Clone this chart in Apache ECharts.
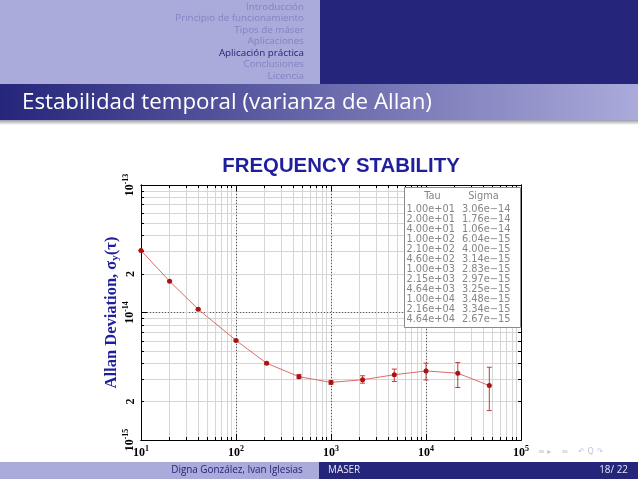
<!DOCTYPE html>
<html>
<head>
<meta charset="utf-8">
<title>Estabilidad temporal (varianza de Allan)</title>
<script src="https://cdn.jsdelivr.net/npm/echarts@6/dist/echarts.min.js"></script>
<style>
    html, body { margin: 0; padding: 0; background: #fff; }
    #chart { width: 638px; height: 479px; }
</style>
</head>
<body>
<div id="chart"></div>
<script>
var tau = [10, 20, 40, 100, 210, 460, 1000, 2150, 4640, 10000, 21600, 46400];
var sigma = [3.06e-14, 1.76e-14, 1.06e-14, 6.04e-15, 4.00e-15, 3.14e-15, 2.83e-15, 2.97e-15, 3.25e-15, 3.48e-15, 3.34e-15, 2.67e-15];
// error bars
var sigmaLow = [3.06e-14, 1.76e-14, 1.05e-14, 5.96e-15, 3.93e-15, 3.03e-15, 2.74e-15, 2.79e-15, 2.88e-15, 2.96e-15, 2.58e-15, 1.70e-15];
var sigmaHigh = [3.06e-14, 1.76e-14, 1.07e-14, 6.12e-15, 4.07e-15, 3.26e-15, 2.93e-15, 3.19e-15, 3.60e-15, 4.00e-15, 4.05e-15, 3.72e-15];

var xMajor = [10, 100, 1000, 10000, 100000];
var yMajor = [1e-15, 1e-14, 1e-13];
var yLabelTicks = [1e-15, 2e-15, 1e-14, 2e-14, 1e-13];

var sections = ['Introducción', 'Principio de funcionamiento', 'Tipos de máser', 'Aplicaciones', 'Aplicación práctica', 'Conclusiones', 'Licencia'];
var activeSection = 4;

var navy = '#25257b';
var lavender = '#aaaadb';
var lg = Math.log10;

function allTicks(majors) {
    var out = [];
    for (var i = 0; i < majors.length; i++) {
        for (var k = 1; k <= 9; k++) {
            var v = majors[i] * k;
            if (v <= majors[majors.length - 1] * 1.0001) out.push(lg(v));
        }
    }
    return out;
}

function fmtE(v) {
    var p = v.toExponential(2).split('e');
    var ex = parseInt(p[1], 10);
    var a = Math.abs(ex);
    return p[0] + 'e' + (ex < 0 ? '−' : '+') + (a < 10 ? '0' + a : a);
}

var xMin = lg(xMajor[0]), xMax = lg(xMajor[xMajor.length - 1]);
var yMin = lg(yMajor[0]), yMax = lg(yMajor[yMajor.length - 1]);
var xTicks = allTicks(xMajor);
var yTicks = allTicks(yMajor);

var lineData = tau.map(function (t, i) { return [lg(t), lg(sigma[i])]; });
var errData = tau.map(function (t, i) { return [lg(t), lg(sigmaLow[i]), lg(sigmaHigh[i])]; });

var serifRich = {
    b: { fontFamily: 'Liberation Serif', fontWeight: 'bold', fontSize: 12, color: '#000' },
    s: { fontFamily: 'Liberation Serif', fontWeight: 'bold', fontSize: 8, color: '#000', padding: [0, 0, 7, 0] }
};

function isInt(v) { return Math.abs(v - Math.round(v)) < 1e-6; }

// table in the upper right corner
var tblFont = '9.8px "DejaVu Sans", sans-serif';
var tblColor = '#858585';
var tableChildren = [
    { type: 'rect', z: 50, shape: { x: 0, y: 0, width: 116, height: 140 }, style: { fill: '#fff', stroke: '#8a8a8a', lineWidth: 1 } },
    { type: 'text', z: 51, x: 28, y: 9, style: { text: 'Tau', fill: tblColor, font: tblFont, align: 'center', verticalAlign: 'middle' } },
    { type: 'text', z: 51, x: 79, y: 9, style: { text: 'Sigma', fill: tblColor, font: tblFont, align: 'center', verticalAlign: 'middle' } }
];
tau.forEach(function (t, i) {
    var yy = 22.3 + i * 10;
    tableChildren.push({ type: 'text', z: 51, x: 2, y: yy, style: { text: fmtE(t), fill: tblColor, font: tblFont, verticalAlign: 'middle' } });
    tableChildren.push({ type: 'text', z: 51, x: 57.5, y: yy, style: { text: fmtE(sigma[i]), fill: tblColor, font: tblFont, verticalAlign: 'middle' } });
});

// beamer frame
var sectionTexts = sections.map(function (s, i) {
    return { type: 'text', x: 304, y: 7 + i * 11.5, style: { text: s, fill: i === activeSection ? '#25257b' : '#8383c2', font: '9.8px "Open Sans", sans-serif', align: 'right', verticalAlign: 'middle' } };
});

var graphics = [
    { type: 'rect', shape: { x: 0, y: 0, width: 320, height: 84 }, style: { fill: lavender }, z: -10 },
    { type: 'rect', shape: { x: 320, y: 0, width: 318, height: 84 }, style: { fill: navy }, z: -10 },
    { type: 'rect', shape: { x: 0, y: 84, width: 638, height: 36 }, z: -10,
      style: { fill: new echarts.graphic.LinearGradient(0, 0, 1, 0, [{ offset: 0, color: navy }, { offset: 1, color: lavender }]) } },
    { type: 'rect', shape: { x: 0, y: 120, width: 638, height: 5 }, z: -10,
      style: { fill: new echarts.graphic.LinearGradient(0, 0, 0, 1, [{ offset: 0, color: '#9a9aa8' }, { offset: 1, color: '#ffffff' }]) } },
    { type: 'text', x: 22, y: 103, style: { text: 'Estabilidad temporal (varianza de Allan)', fill: '#fff', font: '22.3px "Open Sans", sans-serif', verticalAlign: 'middle' } },
    { type: 'rect', shape: { x: 0, y: 462, width: 319, height: 17 }, style: { fill: lavender }, z: -10 },
    { type: 'rect', shape: { x: 319, y: 462, width: 319, height: 17 }, style: { fill: navy }, z: -10 },
    { type: 'text', x: 237, y: 470.5, style: { text: 'Digna González, Ivan Iglesias', fill: navy, font: '9.9px "Open Sans", sans-serif', align: 'center', verticalAlign: 'middle' } },
    { type: 'text', x: 328, y: 470.5, style: { text: 'MASER', fill: '#e6e6f2', font: '9.9px "Open Sans", sans-serif', verticalAlign: 'middle' } },
    { type: 'text', x: 628, y: 470.5, style: { text: '18/ 22', fill: '#e6e6f2', font: '9.9px "Open Sans", sans-serif', align: 'right', verticalAlign: 'middle' } },
    { type: 'text', x: 538, y: 452, style: { text: '≡ ▸    ≡    ↶ Q ↷', fill: '#c4c4dc', font: '8px "DejaVu Sans", sans-serif', verticalAlign: 'middle' } },
    { type: 'group', x: 404.5, y: 187.5, z: 50, children: tableChildren }
].concat(sectionTexts);

function axisBase(extra) {
    var base = {
        type: 'value',
        axisLine: { show: true, onZero: false, lineStyle: { color: '#000', width: 1 } },
        axisTick: { show: true, inside: true, length: 3, lineStyle: { color: '#000', width: 1 } },
        splitLine: { show: false },
        axisLabel: { show: false }
    };
    return Object.assign(base, extra);
}

var chart = echarts.init(document.getElementById('chart'));

var option = {
    animation: false,
    backgroundColor: '#fff',
    title: {
        text: 'FREQUENCY STABILITY',
        left: 336, top: 151, textAlign: 'center',
        textStyle: { color: '#1f1f9e', fontFamily: 'Liberation Sans', fontWeight: 'bold', fontSize: 20.4 }
    },
    grid: { left: 141, right: 117, top: 185, bottom: 39 },
    graphic: graphics,
    xAxis: [
        axisBase({ position: 'bottom', min: xMin, max: xMax,
            axisTick: { show: true, inside: true, length: 3, customValues: xTicks, lineStyle: { color: '#000' } },
            splitLine: { show: true, lineStyle: { color: '#d6d6d6', width: 1 } } }),
        axisBase({ position: 'bottom', min: xMin, max: xMax, interval: 1,
            axisTick: { show: true, inside: true, length: 6, lineStyle: { color: '#000' } },
            splitLine: { show: true, lineStyle: { color: '#555', width: 1, type: [1, 2] } },
            axisLabel: { show: true, margin: 5, formatter: function (v) { return '{b|10}{s|' + v + '}'; }, rich: serifRich } }),
        axisBase({ position: 'top', min: xMin, max: xMax,
            axisTick: { show: true, inside: true, length: 3, customValues: xTicks, lineStyle: { color: '#000' } } }),
        axisBase({ position: 'top', min: xMin, max: xMax, interval: 1,
            axisTick: { show: true, inside: true, length: 6, lineStyle: { color: '#000' } } })
    ],
    yAxis: [
        axisBase({ position: 'left', min: yMin, max: yMax,
            axisTick: { show: true, inside: true, length: 3, customValues: yTicks, lineStyle: { color: '#000' } },
            splitLine: { show: true, lineStyle: { color: '#d6d6d6', width: 1 } },
            axisLabel: { show: true, rotate: 90, margin: 4, customValues: yLabelTicks.map(lg),
                formatter: function (v) { return isInt(v) ? '{b|10}{s|' + Math.round(v) + '}' : '{b|2}'; }, rich: serifRich },
            name: '{a|Allan Deviation, σ}{sub|y}{a|(τ)}', nameLocation: 'middle', nameRotate: 90, nameGap: 20,
            nameMoveOverlap: false,
            nameTextStyle: { rich: {
                a: { fontFamily: 'Liberation Serif', fontWeight: 'bold', fontSize: 16.5, color: '#1f1f9e' },
                sub: { fontFamily: 'Liberation Serif', fontWeight: 'bold', fontSize: 11, color: '#1f1f9e', padding: [7, 0, 0, 0] }
            } } }),
        axisBase({ position: 'left', min: yMin, max: yMax, interval: 1,
            axisTick: { show: true, inside: true, length: 6, lineStyle: { color: '#000' } },
            splitLine: { show: true, lineStyle: { color: '#555', width: 1, type: [1, 2] } } }),
        axisBase({ position: 'right', min: yMin, max: yMax,
            axisTick: { show: true, inside: true, length: 3, customValues: yTicks, lineStyle: { color: '#000' } } }),
        axisBase({ position: 'right', min: yMin, max: yMax, interval: 1,
            axisTick: { show: true, inside: true, length: 6, lineStyle: { color: '#000' } } })
    ],
    series: [
        {
            type: 'custom', xAxisIndex: 0, yAxisIndex: 0, z: 3,
            data: errData,
            encode: { x: 0, y: [1, 2] },
            renderItem: function (params, api) {
                var x = api.value(0);
                var pHi = api.coord([x, api.value(2)]);
                var pLo = api.coord([x, api.value(1)]);
                var w = 2.5;
                var st = { stroke: '#c83a3a', lineWidth: 1 };
                return { type: 'group', children: [
                    { type: 'line', shape: { x1: pHi[0], y1: pHi[1], x2: pLo[0], y2: pLo[1] }, style: st },
                    { type: 'line', shape: { x1: pHi[0] - w, y1: pHi[1], x2: pHi[0] + w, y2: pHi[1] }, style: st },
                    { type: 'line', shape: { x1: pLo[0] - w, y1: pLo[1], x2: pLo[0] + w, y2: pLo[1] }, style: st }
                ] };
            }
        },
        {
            type: 'line', xAxisIndex: 0, yAxisIndex: 0, z: 4,
            data: lineData,
            lineStyle: { color: '#de6a6a', width: 1 },
            symbol: 'circle', symbolSize: 5,
            itemStyle: { color: '#a81414' }
        }
    ]
};
chart.setOption(option);
</script>
</body>
</html>
